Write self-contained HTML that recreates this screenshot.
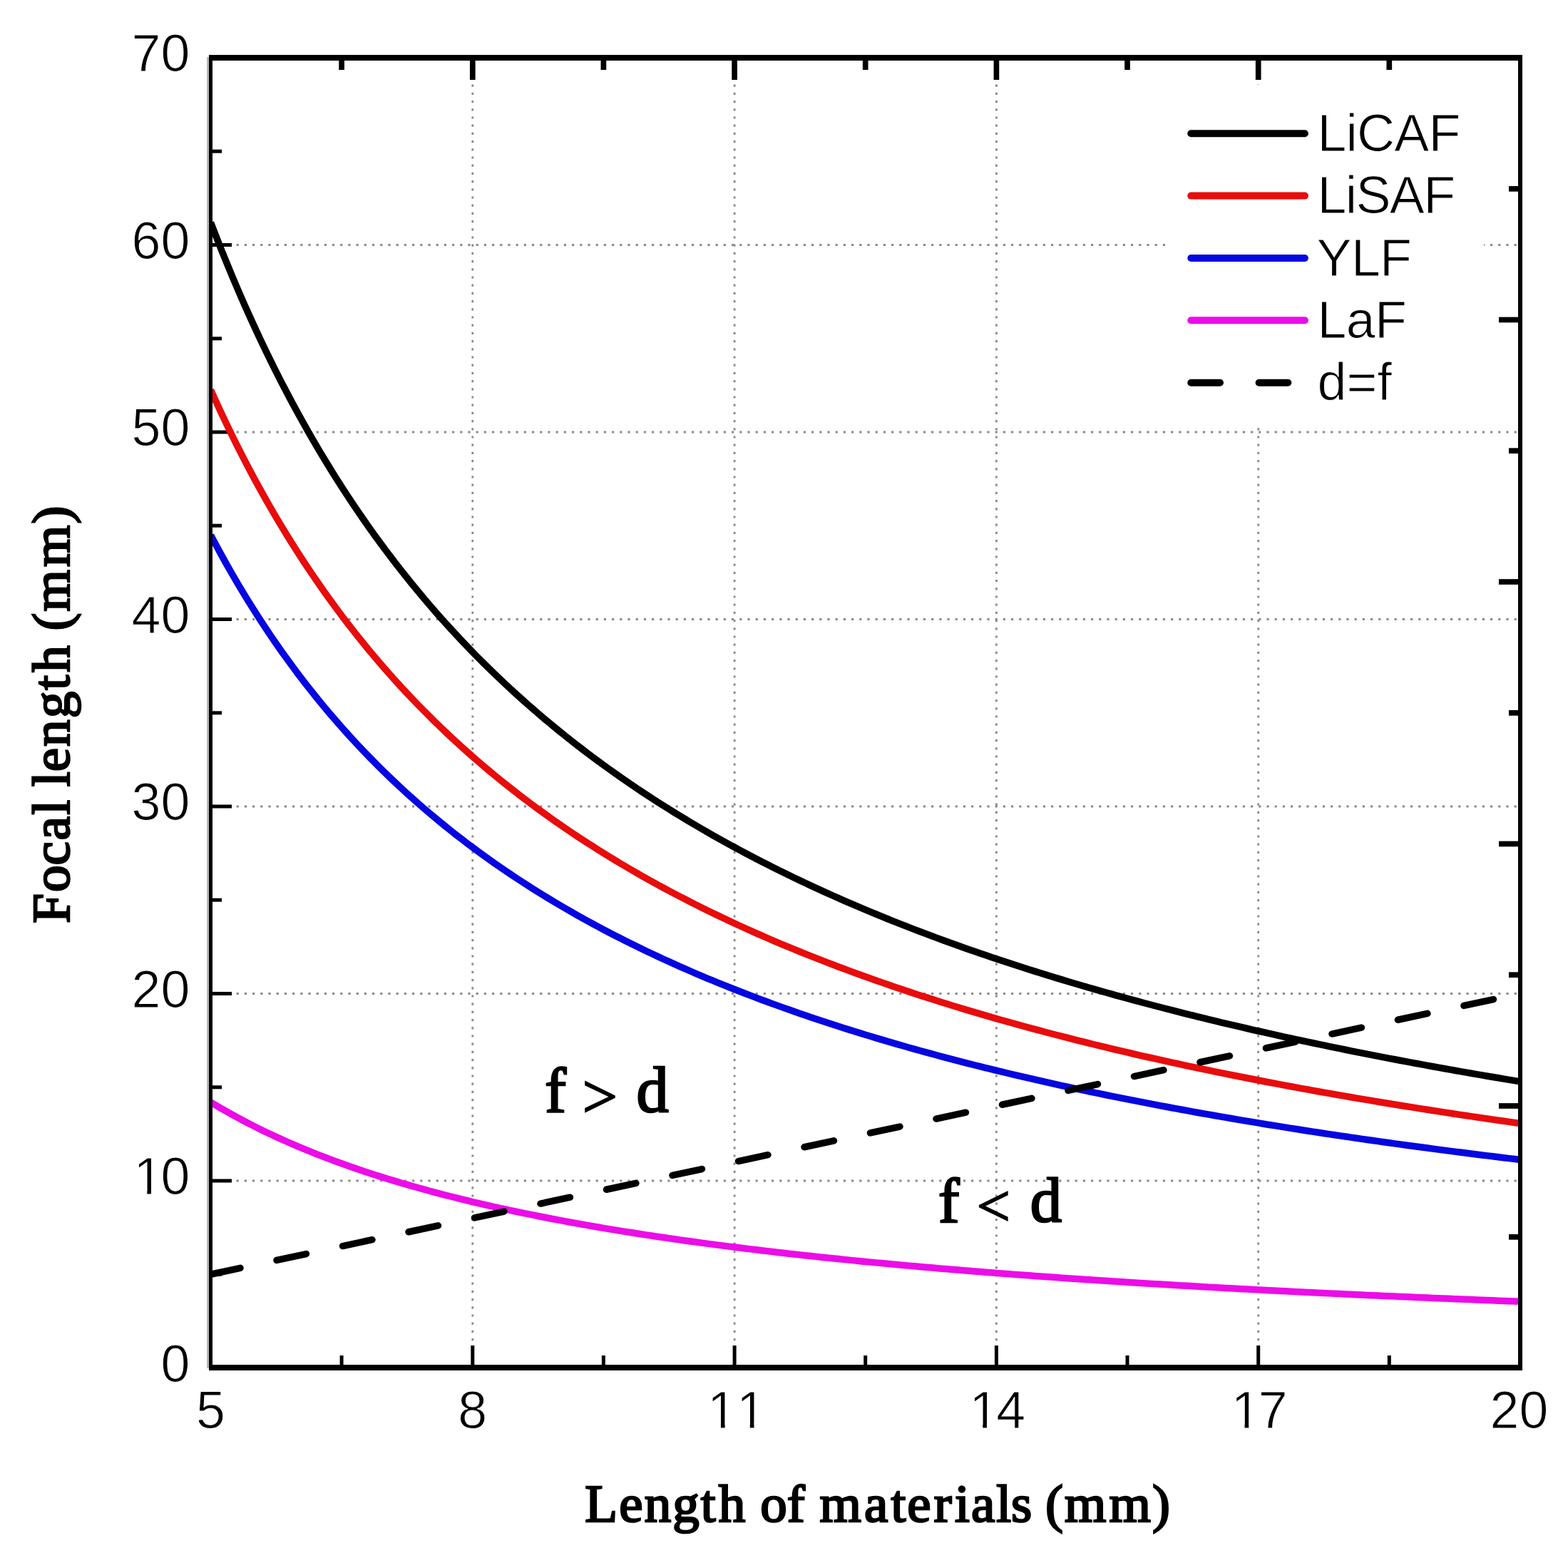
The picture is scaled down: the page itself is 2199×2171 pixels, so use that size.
<!DOCTYPE html>
<html><head><meta charset="utf-8"><title>Focal length vs length of materials</title>
<style>
html,body{margin:0;padding:0;background:#fff;}
body{width:2199px;height:2171px;overflow:hidden;}
svg{display:block;}
.t{font-family:"Liberation Sans",Arial,sans-serif;fill:#000;stroke:#fff;stroke-width:1px;}
.s{font-family:"Liberation Serif","Times New Roman",serif;font-weight:bold;fill:#000;}
</style></head><body>
<svg width="2199" height="2171" viewBox="0 0 2199 2171">
<rect width="2199" height="2171" fill="#fff"/>

<g stroke="#8a8a8a" stroke-width="2.8" stroke-dasharray="3.2 8"><line x1="662.8" y1="85" x2="662.8" y2="1914"/><line x1="1030.1" y1="85" x2="1030.1" y2="1914"/><line x1="1397.4" y1="85" x2="1397.4" y2="1914"/><line x1="1764.7" y1="85" x2="1764.7" y2="1914"/><line x1="298" y1="1656.0" x2="2129" y2="1656.0"/><line x1="298" y1="1393.5" x2="2129" y2="1393.5"/><line x1="298" y1="1131.0" x2="2129" y2="1131.0"/><line x1="298" y1="868.5" x2="2129" y2="868.5"/><line x1="298" y1="606.0" x2="2129" y2="606.0"/><line x1="298" y1="343.5" x2="2129" y2="343.5"/></g>
<rect x="1640" y="119" width="441" height="481" fill="#fff"/>
<rect x="290" y="80" width="3" height="1839" fill="#b8b8b8"/>
<g stroke="#000" stroke-width="5"><line x1="479.1" y1="1914" x2="479.1" y2="1901"/><line x1="662.8" y1="1914" x2="662.8" y2="1887"/><line x1="846.4" y1="1914" x2="846.4" y2="1901"/><line x1="1030.1" y1="1914" x2="1030.1" y2="1887"/><line x1="1213.7" y1="1914" x2="1213.7" y2="1901"/><line x1="1397.4" y1="1914" x2="1397.4" y2="1887"/><line x1="1581.0" y1="1914" x2="1581.0" y2="1901"/><line x1="1764.7" y1="1914" x2="1764.7" y2="1887"/><line x1="1948.3" y1="1914" x2="1948.3" y2="1901"/><line x1="298" y1="1787.2" x2="311" y2="1787.2"/><line x1="298" y1="1656.0" x2="325" y2="1656.0"/><line x1="298" y1="1524.8" x2="311" y2="1524.8"/><line x1="298" y1="1393.5" x2="325" y2="1393.5"/><line x1="298" y1="1262.2" x2="311" y2="1262.2"/><line x1="298" y1="1131.0" x2="325" y2="1131.0"/><line x1="298" y1="999.8" x2="311" y2="999.8"/><line x1="298" y1="868.5" x2="325" y2="868.5"/><line x1="298" y1="737.2" x2="311" y2="737.2"/><line x1="298" y1="606.0" x2="325" y2="606.0"/><line x1="298" y1="474.8" x2="311" y2="474.8"/><line x1="298" y1="343.5" x2="325" y2="343.5"/><line x1="298" y1="212.2" x2="311" y2="212.2"/></g>
<g stroke="#000" stroke-width="7.7"><line x1="479.1" y1="85" x2="479.1" y2="98"/><line x1="662.8" y1="85" x2="662.8" y2="112"/><line x1="846.4" y1="85" x2="846.4" y2="98"/><line x1="1030.1" y1="85" x2="1030.1" y2="112"/><line x1="1213.7" y1="85" x2="1213.7" y2="98"/><line x1="1397.4" y1="85" x2="1397.4" y2="112"/><line x1="1581.0" y1="85" x2="1581.0" y2="98"/><line x1="1764.7" y1="85" x2="1764.7" y2="112"/><line x1="1948.3" y1="85" x2="1948.3" y2="98"/><line x1="2129" y1="1734.8" x2="2116" y2="1734.8"/><line x1="2129" y1="1551.0" x2="2102" y2="1551.0"/><line x1="2129" y1="1367.2" x2="2116" y2="1367.2"/><line x1="2129" y1="1183.5" x2="2102" y2="1183.5"/><line x1="2129" y1="999.8" x2="2116" y2="999.8"/><line x1="2129" y1="816.0" x2="2102" y2="816.0"/><line x1="2129" y1="632.2" x2="2116" y2="632.2"/><line x1="2129" y1="448.5" x2="2102" y2="448.5"/><line x1="2129" y1="264.8" x2="2116" y2="264.8"/></g>
<defs><clipPath id="pc"><rect x="293" y="77" width="1842" height="1845"/></clipPath></defs>
<g clip-path="url(#pc)" fill="none" stroke-width="9.5" stroke-linejoin="round">
<path d="M295.50,1545.75 L303.15,1550.35 L310.80,1554.84 L318.46,1559.22 L326.11,1563.50 L333.76,1567.68 L341.41,1571.76 L349.06,1575.74 L356.72,1579.64 L364.37,1583.44 L372.02,1587.17 L379.67,1590.81 L387.32,1594.37 L394.97,1597.85 L402.63,1601.27 L410.28,1604.61 L417.93,1607.88 L425.58,1611.08 L433.23,1614.21 L440.89,1617.29 L448.54,1620.30 L456.19,1623.25 L463.84,1626.15 L471.49,1628.99 L479.14,1631.77 L486.80,1634.50 L494.45,1637.18 L502.10,1639.81 L509.75,1642.39 L517.40,1644.92 L525.06,1647.41 L532.71,1649.85 L540.36,1652.25 L548.01,1654.61 L555.66,1656.92 L563.32,1659.20 L570.97,1661.43 L578.62,1663.63 L586.27,1665.79 L593.92,1667.91 L601.58,1670.00 L609.23,1672.05 L616.88,1674.07 L624.53,1676.06 L632.18,1678.02 L639.83,1679.94 L647.49,1681.83 L655.14,1683.70 L662.79,1685.53 L670.44,1687.34 L678.09,1689.12 L685.75,1690.87 L693.40,1692.59 L701.05,1694.29 L708.70,1695.96 L716.35,1697.61 L724.00,1699.24 L731.66,1700.84 L739.31,1702.41 L746.96,1703.97 L754.61,1705.50 L762.26,1707.01 L769.92,1708.50 L777.57,1709.97 L785.22,1711.42 L792.87,1712.84 L800.52,1714.25 L808.18,1715.64 L815.83,1717.01 L823.48,1718.37 L831.13,1719.70 L838.78,1721.02 L846.44,1722.32 L854.09,1723.60 L861.74,1724.86 L869.39,1726.11 L877.04,1727.35 L884.69,1728.56 L892.35,1729.77 L900.00,1730.95 L907.65,1732.12 L915.30,1733.28 L922.95,1734.43 L930.61,1735.56 L938.26,1736.67 L945.91,1737.77 L953.56,1738.86 L961.21,1739.94 L968.87,1741.00 L976.52,1742.05 L984.17,1743.09 L991.82,1744.11 L999.47,1745.13 L1007.12,1746.13 L1014.78,1747.12 L1022.43,1748.10 L1030.08,1749.07 L1037.73,1750.03 L1045.38,1750.97 L1053.04,1751.91 L1060.69,1752.83 L1068.34,1753.75 L1075.99,1754.65 L1083.64,1755.55 L1091.30,1756.43 L1098.95,1757.31 L1106.60,1758.18 L1114.25,1759.03 L1121.90,1759.88 L1129.55,1760.72 L1137.21,1761.55 L1144.86,1762.37 L1152.51,1763.19 L1160.16,1763.99 L1167.81,1764.79 L1175.47,1765.58 L1183.12,1766.36 L1190.77,1767.13 L1198.42,1767.89 L1206.07,1768.65 L1213.72,1769.40 L1221.38,1770.14 L1229.03,1770.88 L1236.68,1771.60 L1244.33,1772.32 L1251.98,1773.04 L1259.64,1773.74 L1267.29,1774.44 L1274.94,1775.13 L1282.59,1775.82 L1290.24,1776.50 L1297.90,1777.17 L1305.55,1777.84 L1313.20,1778.50 L1320.85,1779.15 L1328.50,1779.80 L1336.15,1780.44 L1343.81,1781.08 L1351.46,1781.71 L1359.11,1782.34 L1366.76,1782.95 L1374.41,1783.57 L1382.07,1784.18 L1389.72,1784.78 L1397.37,1785.38 L1405.02,1785.97 L1412.67,1786.55 L1420.33,1787.13 L1427.98,1787.71 L1435.63,1788.28 L1443.28,1788.85 L1450.93,1789.41 L1458.59,1789.97 L1466.24,1790.52 L1473.89,1791.06 L1481.54,1791.61 L1489.19,1792.14 L1496.84,1792.68 L1504.50,1793.21 L1512.15,1793.73 L1519.80,1794.25 L1527.45,1794.77 L1535.10,1795.28 L1542.76,1795.78 L1550.41,1796.29 L1558.06,1796.79 L1565.71,1797.28 L1573.36,1797.77 L1581.02,1798.26 L1588.67,1798.74 L1596.32,1799.22 L1603.97,1799.70 L1611.62,1800.17 L1619.27,1800.63 L1626.93,1801.10 L1634.58,1801.56 L1642.23,1802.02 L1649.88,1802.47 L1657.53,1802.92 L1665.19,1803.36 L1672.84,1803.81 L1680.49,1804.25 L1688.14,1804.68 L1695.79,1805.12 L1703.45,1805.55 L1711.10,1805.97 L1718.75,1806.39 L1726.40,1806.81 L1734.05,1807.23 L1741.70,1807.64 L1749.36,1808.06 L1757.01,1808.46 L1764.66,1808.87 L1772.31,1809.27 L1779.96,1809.67 L1787.62,1810.06 L1795.27,1810.46 L1802.92,1810.85 L1810.57,1811.23 L1818.22,1811.62 L1825.88,1812.00 L1833.53,1812.38 L1841.18,1812.76 L1848.83,1813.13 L1856.48,1813.50 L1864.13,1813.87 L1871.79,1814.23 L1879.44,1814.60 L1887.09,1814.96 L1894.74,1815.32 L1902.39,1815.67 L1910.05,1816.03 L1917.70,1816.38 L1925.35,1816.73 L1933.00,1817.07 L1940.65,1817.42 L1948.31,1817.76 L1955.96,1818.10 L1963.61,1818.43 L1971.26,1818.77 L1978.91,1819.10 L1986.56,1819.43 L1994.22,1819.76 L2001.87,1820.08 L2009.52,1820.41 L2017.17,1820.73 L2024.82,1821.05 L2032.48,1821.37 L2040.13,1821.68 L2047.78,1822.00 L2055.43,1822.31 L2063.08,1822.62 L2070.74,1822.92 L2078.39,1823.23 L2086.04,1823.53 L2093.69,1823.83 L2101.34,1824.13 L2108.99,1824.43 L2116.65,1824.73 L2124.30,1825.02 L2131.95,1825.31" stroke="#ec0ce8"/>
<path d="M295.50,750.38 L303.15,764.80 L310.80,778.87 L318.46,792.60 L326.11,806.00 L333.76,819.09 L341.41,831.87 L349.06,844.36 L356.72,856.57 L364.37,868.50 L372.02,880.17 L379.67,891.58 L387.32,902.74 L394.97,913.66 L402.63,924.35 L410.28,934.82 L417.93,945.06 L425.58,955.10 L433.23,964.93 L440.89,974.56 L448.54,984.00 L456.19,993.25 L463.84,1002.32 L471.49,1011.22 L479.14,1019.94 L486.80,1028.50 L494.45,1036.90 L502.10,1045.14 L509.75,1053.22 L517.40,1061.16 L525.06,1068.95 L532.71,1076.61 L540.36,1084.12 L548.01,1091.51 L555.66,1098.76 L563.32,1105.89 L570.97,1112.90 L578.62,1119.78 L586.27,1126.55 L593.92,1133.21 L601.58,1139.75 L609.23,1146.19 L616.88,1152.52 L624.53,1158.74 L632.18,1164.87 L639.83,1170.90 L647.49,1176.83 L655.14,1182.67 L662.79,1188.42 L670.44,1194.08 L678.09,1199.65 L685.75,1205.14 L693.40,1210.55 L701.05,1215.87 L708.70,1221.11 L716.35,1226.28 L724.00,1231.37 L731.66,1236.38 L739.31,1241.33 L746.96,1246.20 L754.61,1251.00 L762.26,1255.73 L769.92,1260.40 L777.57,1265.00 L785.22,1269.54 L792.87,1274.02 L800.52,1278.43 L808.18,1282.79 L815.83,1287.08 L823.48,1291.32 L831.13,1295.50 L838.78,1299.63 L846.44,1303.70 L854.09,1307.72 L861.74,1311.68 L869.39,1315.60 L877.04,1319.46 L884.69,1323.28 L892.35,1327.04 L900.00,1330.76 L907.65,1334.44 L915.30,1338.07 L922.95,1341.65 L930.61,1345.19 L938.26,1348.68 L945.91,1352.14 L953.56,1355.55 L961.21,1358.92 L968.87,1362.25 L976.52,1365.54 L984.17,1368.79 L991.82,1372.01 L999.47,1375.19 L1007.12,1378.33 L1014.78,1381.43 L1022.43,1384.50 L1030.08,1387.53 L1037.73,1390.53 L1045.38,1393.50 L1053.04,1396.43 L1060.69,1399.33 L1068.34,1402.20 L1075.99,1405.04 L1083.64,1407.84 L1091.30,1410.62 L1098.95,1413.36 L1106.60,1416.08 L1114.25,1418.77 L1121.90,1421.43 L1129.55,1424.06 L1137.21,1426.66 L1144.86,1429.23 L1152.51,1431.78 L1160.16,1434.30 L1167.81,1436.80 L1175.47,1439.27 L1183.12,1441.71 L1190.77,1444.13 L1198.42,1446.53 L1206.07,1448.90 L1213.72,1451.25 L1221.38,1453.57 L1229.03,1455.88 L1236.68,1458.16 L1244.33,1460.41 L1251.98,1462.65 L1259.64,1464.86 L1267.29,1467.05 L1274.94,1469.22 L1282.59,1471.37 L1290.24,1473.50 L1297.90,1475.61 L1305.55,1477.70 L1313.20,1479.77 L1320.85,1481.82 L1328.50,1483.85 L1336.15,1485.86 L1343.81,1487.85 L1351.46,1489.83 L1359.11,1491.79 L1366.76,1493.73 L1374.41,1495.65 L1382.07,1497.55 L1389.72,1499.44 L1397.37,1501.31 L1405.02,1503.17 L1412.67,1505.00 L1420.33,1506.83 L1427.98,1508.63 L1435.63,1510.42 L1443.28,1512.20 L1450.93,1513.95 L1458.59,1515.70 L1466.24,1517.43 L1473.89,1519.14 L1481.54,1520.84 L1489.19,1522.53 L1496.84,1524.20 L1504.50,1525.85 L1512.15,1527.50 L1519.80,1529.12 L1527.45,1530.74 L1535.10,1532.34 L1542.76,1533.93 L1550.41,1535.51 L1558.06,1537.07 L1565.71,1538.62 L1573.36,1540.16 L1581.02,1541.69 L1588.67,1543.20 L1596.32,1544.70 L1603.97,1546.19 L1611.62,1547.67 L1619.27,1549.13 L1626.93,1550.59 L1634.58,1552.03 L1642.23,1553.46 L1649.88,1554.88 L1657.53,1556.29 L1665.19,1557.69 L1672.84,1559.08 L1680.49,1560.45 L1688.14,1561.82 L1695.79,1563.18 L1703.45,1564.52 L1711.10,1565.86 L1718.75,1567.18 L1726.40,1568.50 L1734.05,1569.81 L1741.70,1571.10 L1749.36,1572.39 L1757.01,1573.67 L1764.66,1574.93 L1772.31,1576.19 L1779.96,1577.44 L1787.62,1578.68 L1795.27,1579.91 L1802.92,1581.14 L1810.57,1582.35 L1818.22,1583.55 L1825.88,1584.75 L1833.53,1585.94 L1841.18,1587.12 L1848.83,1588.29 L1856.48,1589.45 L1864.13,1590.61 L1871.79,1591.75 L1879.44,1592.89 L1887.09,1594.02 L1894.74,1595.14 L1902.39,1596.26 L1910.05,1597.37 L1917.70,1598.47 L1925.35,1599.56 L1933.00,1600.64 L1940.65,1601.72 L1948.31,1602.79 L1955.96,1603.85 L1963.61,1604.91 L1971.26,1605.96 L1978.91,1607.00 L1986.56,1608.03 L1994.22,1609.06 L2001.87,1610.08 L2009.52,1611.10 L2017.17,1612.11 L2024.82,1613.11 L2032.48,1614.10 L2040.13,1615.09 L2047.78,1616.07 L2055.43,1617.05 L2063.08,1618.02 L2070.74,1618.98 L2078.39,1619.94 L2086.04,1620.89 L2093.69,1621.83 L2101.34,1622.77 L2108.99,1623.71 L2116.65,1624.63 L2124.30,1625.55 L2131.95,1626.47" stroke="#0606e0"/>
<path d="M295.50,546.67 L303.15,563.61 L310.80,580.13 L318.46,596.26 L326.11,612.00 L333.76,627.37 L341.41,642.38 L349.06,657.05 L356.72,671.39 L364.37,685.40 L372.02,699.10 L379.67,712.50 L387.32,725.61 L394.97,738.44 L402.63,750.99 L410.28,763.28 L417.93,775.31 L425.58,787.10 L433.23,798.64 L440.89,809.95 L448.54,821.04 L456.19,831.91 L463.84,842.56 L471.49,853.00 L479.14,863.25 L486.80,873.30 L494.45,883.16 L502.10,892.84 L509.75,902.33 L517.40,911.66 L525.06,920.81 L532.71,929.80 L540.36,938.62 L548.01,947.30 L555.66,955.82 L563.32,964.19 L570.97,972.41 L578.62,980.50 L586.27,988.45 L593.92,996.26 L601.58,1003.95 L609.23,1011.51 L616.88,1018.94 L624.53,1026.26 L632.18,1033.45 L639.83,1040.53 L647.49,1047.50 L655.14,1054.36 L662.79,1061.11 L670.44,1067.76 L678.09,1074.30 L685.75,1080.74 L693.40,1087.09 L701.05,1093.34 L708.70,1099.50 L716.35,1105.57 L724.00,1111.54 L731.66,1117.43 L739.31,1123.24 L746.96,1128.96 L754.61,1134.60 L762.26,1140.16 L769.92,1145.64 L777.57,1151.05 L785.22,1156.38 L792.87,1161.63 L800.52,1166.82 L808.18,1171.93 L815.83,1176.97 L823.48,1181.95 L831.13,1186.86 L838.78,1191.71 L846.44,1196.49 L854.09,1201.21 L861.74,1205.86 L869.39,1210.46 L877.04,1215.00 L884.69,1219.48 L892.35,1223.91 L900.00,1228.27 L907.65,1232.59 L915.30,1236.85 L922.95,1241.06 L930.61,1245.21 L938.26,1249.32 L945.91,1253.37 L953.56,1257.38 L961.21,1261.34 L968.87,1265.25 L976.52,1269.12 L984.17,1272.94 L991.82,1276.71 L999.47,1280.44 L1007.12,1284.13 L1014.78,1287.78 L1022.43,1291.38 L1030.08,1294.94 L1037.73,1298.47 L1045.38,1301.95 L1053.04,1305.39 L1060.69,1308.80 L1068.34,1312.17 L1075.99,1315.50 L1083.64,1318.80 L1091.30,1322.05 L1098.95,1325.28 L1106.60,1328.47 L1114.25,1331.62 L1121.90,1334.74 L1129.55,1337.83 L1137.21,1340.89 L1144.86,1343.91 L1152.51,1346.91 L1160.16,1349.87 L1167.81,1352.80 L1175.47,1355.70 L1183.12,1358.57 L1190.77,1361.41 L1198.42,1364.23 L1206.07,1367.01 L1213.72,1369.77 L1221.38,1372.50 L1229.03,1375.20 L1236.68,1377.88 L1244.33,1380.53 L1251.98,1383.15 L1259.64,1385.75 L1267.29,1388.33 L1274.94,1390.88 L1282.59,1393.40 L1290.24,1395.90 L1297.90,1398.38 L1305.55,1400.83 L1313.20,1403.26 L1320.85,1405.67 L1328.50,1408.05 L1336.15,1410.42 L1343.81,1412.76 L1351.46,1415.08 L1359.11,1417.38 L1366.76,1419.65 L1374.41,1421.91 L1382.07,1424.15 L1389.72,1426.37 L1397.37,1428.56 L1405.02,1430.74 L1412.67,1432.90 L1420.33,1435.04 L1427.98,1437.16 L1435.63,1439.26 L1443.28,1441.34 L1450.93,1443.41 L1458.59,1445.46 L1466.24,1447.49 L1473.89,1449.50 L1481.54,1451.50 L1489.19,1453.47 L1496.84,1455.44 L1504.50,1457.38 L1512.15,1459.31 L1519.80,1461.22 L1527.45,1463.12 L1535.10,1465.00 L1542.76,1466.87 L1550.41,1468.72 L1558.06,1470.56 L1565.71,1472.38 L1573.36,1474.18 L1581.02,1475.98 L1588.67,1477.75 L1596.32,1479.52 L1603.97,1481.26 L1611.62,1483.00 L1619.27,1484.72 L1626.93,1486.43 L1634.58,1488.12 L1642.23,1489.80 L1649.88,1491.47 L1657.53,1493.13 L1665.19,1494.77 L1672.84,1496.40 L1680.49,1498.02 L1688.14,1499.62 L1695.79,1501.21 L1703.45,1502.80 L1711.10,1504.36 L1718.75,1505.92 L1726.40,1507.47 L1734.05,1509.00 L1741.70,1510.52 L1749.36,1512.03 L1757.01,1513.53 L1764.66,1515.02 L1772.31,1516.50 L1779.96,1517.97 L1787.62,1519.42 L1795.27,1520.87 L1802.92,1522.31 L1810.57,1523.73 L1818.22,1525.15 L1825.88,1526.55 L1833.53,1527.94 L1841.18,1529.33 L1848.83,1530.70 L1856.48,1532.07 L1864.13,1533.43 L1871.79,1534.77 L1879.44,1536.11 L1887.09,1537.44 L1894.74,1538.76 L1902.39,1540.07 L1910.05,1541.37 L1917.70,1542.66 L1925.35,1543.94 L1933.00,1545.21 L1940.65,1546.48 L1948.31,1547.74 L1955.96,1548.98 L1963.61,1550.22 L1971.26,1551.46 L1978.91,1552.68 L1986.56,1553.90 L1994.22,1555.10 L2001.87,1556.30 L2009.52,1557.49 L2017.17,1558.68 L2024.82,1559.85 L2032.48,1561.02 L2040.13,1562.18 L2047.78,1563.33 L2055.43,1564.48 L2063.08,1565.62 L2070.74,1566.75 L2078.39,1567.87 L2086.04,1568.99 L2093.69,1570.10 L2101.34,1571.20 L2108.99,1572.30 L2116.65,1573.39 L2124.30,1574.47 L2131.95,1575.54" stroke="#e80c0c"/>
<path d="M295.50,312.00 L303.15,331.83 L310.80,351.18 L318.46,370.07 L326.11,388.50 L333.76,406.50 L341.41,424.08 L349.06,441.26 L356.72,458.05 L364.37,474.46 L372.02,490.50 L379.67,506.19 L387.32,521.54 L394.97,536.56 L402.63,551.27 L410.28,565.66 L417.93,579.75 L425.58,593.55 L433.23,607.07 L440.89,620.32 L448.54,633.30 L456.19,646.02 L463.84,658.50 L471.49,670.73 L479.14,682.73 L486.80,694.50 L494.45,706.05 L502.10,717.38 L509.75,728.50 L517.40,739.42 L525.06,750.14 L532.71,760.66 L540.36,771.00 L548.01,781.15 L555.66,791.13 L563.32,800.93 L570.97,810.57 L578.62,820.04 L586.27,829.35 L593.92,838.50 L601.58,847.50 L609.23,856.35 L616.88,865.06 L624.53,873.62 L632.18,882.05 L639.83,890.34 L647.49,898.50 L655.14,906.53 L662.79,914.44 L670.44,922.22 L678.09,929.88 L685.75,937.43 L693.40,944.86 L701.05,952.18 L708.70,959.40 L716.35,966.50 L724.00,973.50 L731.66,980.40 L739.31,987.20 L746.96,993.90 L754.61,1000.50 L762.26,1007.01 L769.92,1013.43 L777.57,1019.76 L785.22,1026.00 L792.87,1032.16 L800.52,1038.23 L808.18,1044.21 L815.83,1050.12 L823.48,1055.95 L831.13,1061.70 L838.78,1067.37 L846.44,1072.97 L854.09,1078.50 L861.74,1083.95 L869.39,1089.34 L877.04,1094.65 L884.69,1099.90 L892.35,1105.08 L900.00,1110.20 L907.65,1115.25 L915.30,1120.24 L922.95,1125.17 L930.61,1130.03 L938.26,1134.84 L945.91,1139.59 L953.56,1144.28 L961.21,1148.92 L968.87,1153.50 L976.52,1158.03 L984.17,1162.50 L991.82,1166.92 L999.47,1171.29 L1007.12,1175.61 L1014.78,1179.88 L1022.43,1184.10 L1030.08,1188.27 L1037.73,1192.40 L1045.38,1196.48 L1053.04,1200.51 L1060.69,1204.50 L1068.34,1208.44 L1075.99,1212.35 L1083.64,1216.20 L1091.30,1220.02 L1098.95,1223.80 L1106.60,1227.53 L1114.25,1231.23 L1121.90,1234.88 L1129.55,1238.50 L1137.21,1242.08 L1144.86,1245.62 L1152.51,1249.12 L1160.16,1252.59 L1167.81,1256.03 L1175.47,1259.42 L1183.12,1262.79 L1190.77,1266.11 L1198.42,1269.41 L1206.07,1272.67 L1213.72,1275.90 L1221.38,1279.10 L1229.03,1282.26 L1236.68,1285.40 L1244.33,1288.50 L1251.98,1291.57 L1259.64,1294.62 L1267.29,1297.63 L1274.94,1300.62 L1282.59,1303.57 L1290.24,1306.50 L1297.90,1309.40 L1305.55,1312.27 L1313.20,1315.12 L1320.85,1317.94 L1328.50,1320.73 L1336.15,1323.50 L1343.81,1326.24 L1351.46,1328.96 L1359.11,1331.65 L1366.76,1334.32 L1374.41,1336.96 L1382.07,1339.58 L1389.72,1342.18 L1397.37,1344.75 L1405.02,1347.30 L1412.67,1349.83 L1420.33,1352.33 L1427.98,1354.82 L1435.63,1357.28 L1443.28,1359.72 L1450.93,1362.14 L1458.59,1364.53 L1466.24,1366.91 L1473.89,1369.27 L1481.54,1371.61 L1489.19,1373.92 L1496.84,1376.22 L1504.50,1378.50 L1512.15,1380.76 L1519.80,1383.00 L1527.45,1385.22 L1535.10,1387.43 L1542.76,1389.61 L1550.41,1391.78 L1558.06,1393.93 L1565.71,1396.06 L1573.36,1398.18 L1581.02,1400.27 L1588.67,1402.36 L1596.32,1404.42 L1603.97,1406.47 L1611.62,1408.50 L1619.27,1410.52 L1626.93,1412.52 L1634.58,1414.50 L1642.23,1416.47 L1649.88,1418.42 L1657.53,1420.36 L1665.19,1422.28 L1672.84,1424.19 L1680.49,1426.09 L1688.14,1427.97 L1695.79,1429.83 L1703.45,1431.68 L1711.10,1433.52 L1718.75,1435.34 L1726.40,1437.15 L1734.05,1438.95 L1741.70,1440.73 L1749.36,1442.50 L1757.01,1444.26 L1764.66,1446.00 L1772.31,1447.73 L1779.96,1449.45 L1787.62,1451.15 L1795.27,1452.85 L1802.92,1454.53 L1810.57,1456.20 L1818.22,1457.85 L1825.88,1459.50 L1833.53,1461.13 L1841.18,1462.76 L1848.83,1464.37 L1856.48,1465.96 L1864.13,1467.55 L1871.79,1469.13 L1879.44,1470.70 L1887.09,1472.25 L1894.74,1473.79 L1902.39,1475.33 L1910.05,1476.85 L1917.70,1478.36 L1925.35,1479.87 L1933.00,1481.36 L1940.65,1482.84 L1948.31,1484.31 L1955.96,1485.77 L1963.61,1487.22 L1971.26,1488.67 L1978.91,1490.10 L1986.56,1491.52 L1994.22,1492.94 L2001.87,1494.34 L2009.52,1495.74 L2017.17,1497.12 L2024.82,1498.50 L2032.48,1499.87 L2040.13,1501.23 L2047.78,1502.58 L2055.43,1503.92 L2063.08,1505.25 L2070.74,1506.58 L2078.39,1507.89 L2086.04,1509.20 L2093.69,1510.50 L2101.34,1511.79 L2108.99,1513.07 L2116.65,1514.35 L2124.30,1515.62 L2131.95,1516.88" stroke="#000000"/>
<path d="M295.50,1787.25 L2131.95,1393.50" stroke="#000" stroke-dasharray="42.4 52.2" stroke-linecap="round"/>
</g>
<g fill="#000">
<rect x="293" y="77" width="5" height="1845"/>
<rect x="2129" y="77" width="6" height="1845"/>
<rect x="293" y="77" width="1842" height="8"/>
<rect x="293" y="1914" width="1842" height="8"/>
</g>
<text class="t" x="275.07" y="2002.6" font-size="73.5">5</text>
<text class="t" x="642.36" y="2002.6" font-size="73.5">8</text>
<text class="t" x="992.11 1032.98" y="2002.6" font-size="73.5">11</text>
<text class="t" x="1359.40 1397.37" y="2002.6" font-size="73.5">14</text>
<text class="t" x="1726.69 1764.66" y="2002.6" font-size="73.5">17</text>
<text class="t" x="2089.58 2130.45" y="2002.6" font-size="73.5">20</text>
<text class="t" x="225.43" y="1937.7" font-size="73.5">0</text>
<text class="t" x="187.47 225.43" y="1675.2" font-size="73.5">10</text>
<text class="t" x="184.57 225.43" y="1412.7" font-size="73.5">20</text>
<text class="t" x="184.57 225.43" y="1150.2" font-size="73.5">30</text>
<text class="t" x="184.57 225.43" y="887.7" font-size="73.5">40</text>
<text class="t" x="184.57 225.43" y="625.2" font-size="73.5">50</text>
<text class="t" x="184.57 225.43" y="362.7" font-size="73.5">60</text>
<text class="t" x="184.57 225.43" y="100.2" font-size="73.5">70</text>
<g fill="#fff"><rect x="996.52" y="1996.49" width="14.41" height="7.11"/><rect x="1016.65" y="1996.49" width="15.15" height="7.11"/><rect x="1037.39" y="1996.49" width="14.41" height="7.11"/><rect x="1057.52" y="1996.49" width="15.15" height="7.11"/><rect x="1363.81" y="1996.49" width="14.41" height="7.11"/><rect x="1383.94" y="1996.49" width="15.15" height="7.11"/><rect x="1731.10" y="1996.49" width="14.41" height="7.11"/><rect x="1751.23" y="1996.49" width="15.15" height="7.11"/><rect x="191.88" y="1669.09" width="14.41" height="7.11"/><rect x="212.01" y="1669.09" width="15.15" height="7.11"/></g>
<line x1="1670.3" y1="187.3" x2="1829.9" y2="187.3" stroke="#000000" stroke-width="10" stroke-linecap="round"/>
<text class="t" x="1847.6" y="211.9" font-size="73.5" textLength="200.8" lengthAdjust="spacing">LiCAF</text>
<line x1="1670.3" y1="274.6" x2="1829.9" y2="274.6" stroke="#e80c0c" stroke-width="10" stroke-linecap="round"/>
<text class="t" x="1847.6" y="299.2" font-size="73.5" textLength="193.5" lengthAdjust="spacing">LiSAF</text>
<line x1="1670.3" y1="362.0" x2="1829.9" y2="362.0" stroke="#0606e0" stroke-width="10" stroke-linecap="round"/>
<text class="t" x="1846.6" y="386.6" font-size="73.5" textLength="133.4" lengthAdjust="spacing">YLF</text>
<line x1="1670.3" y1="449.3" x2="1829.9" y2="449.3" stroke="#ec0ce8" stroke-width="10" stroke-linecap="round"/>
<text class="t" x="1847.6" y="473.9" font-size="73.5" textLength="125.4" lengthAdjust="spacing">LaF</text>
<line x1="1670.3" y1="536.7" x2="1806.3" y2="536.7" stroke="#000" stroke-width="10" stroke-linecap="round" stroke-dasharray="40.7 54.6"/>
<text class="t" x="1847.6" y="561.3" font-size="73.5">d=f</text>
<text font-family="Liberation Serif,Times New Roman,serif" fill="#000" stroke="#000"><tspan x="764.32" y="1559.21" font-size="89.05" stroke-width="2.6">f</tspan> <tspan x="816.76" y="1566.59" font-size="87.32" stroke-width="2.0">&gt;</tspan> <tspan x="892.43" y="1559.49" font-size="90.27" stroke-width="2.6">d</tspan></text>
<text font-family="Liberation Serif,Times New Roman,serif" fill="#000" stroke="#000"><tspan x="1316.12" y="1713.82" font-size="88.5" stroke-width="2.6">f</tspan> <tspan x="1369.71" y="1719.18" font-size="83.3" stroke-width="2.0">&lt;</tspan> <tspan x="1444.79" y="1712.93" font-size="88.5" stroke-width="2.6">d</tspan></text>
<text x="820.33 868.26 903.65 943.25 982.81 1007.83 1047.44 1066.19 1103.69 1128.65 1149.47 1212.00 1249.45 1272.37 1309.80 1338.94 1361.88 1397.28 1418.11 1447.30 1466.05 1493.10 1555.57 1615.98" y="2133.7" font-family="Liberation Serif,Times New Roman,serif" font-size="75" fill="#000" stroke="#000" stroke-width="2.6">Length of materials (mm)</text>
<text transform="translate(97,1003.2) rotate(-90)" x="-291.63 -247.88 -210.38 -174.98 -139.59 -118.75 -100.00 -79.17 -43.77 -4.17 35.41 60.41 100.02 118.77 145.82 208.28 268.70" y="0" font-family="Liberation Serif,Times New Roman,serif" font-size="75" fill="#000" stroke="#000" stroke-width="2.6">Focal length (mm)</text>
</svg></body></html>
